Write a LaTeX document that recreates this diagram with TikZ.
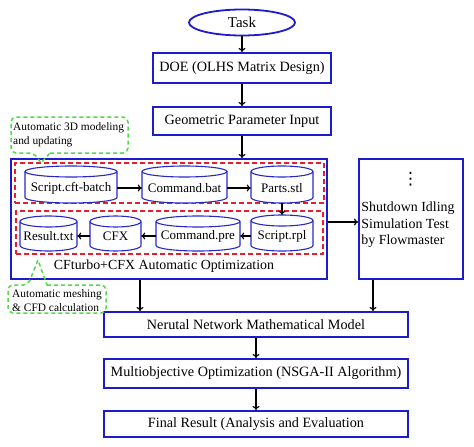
\documentclass[tikz,border=0pt]{standalone}
\usepackage{fontspec}
\setmainfont{Liberation Serif}
\newfontfamily\dejavu{DejaVu Sans}
\usetikzlibrary{arrows.meta,shapes.geometric}
\definecolor{bbox}{RGB}{28,28,205}
\definecolor{rdash}{RGB}{230,30,45}
\definecolor{gdash}{RGB}{80,220,70}
\definecolor{cylblue}{RGB}{40,40,200}
\tikzset{
  bluebox/.style={draw=bbox, line width=2.4pt, inner sep=0pt, font=\fontsize{14.2}{17}\selectfont},
  reddash/.style={draw=rdash, line width=2pt, dash pattern=on 5pt off 3pt, inner sep=0pt},
  greendash/.style={draw=gdash, line width=1.5pt, dash pattern=on 4pt off 3pt},
  arr/.style={-{To[length=4pt,width=7pt]}, line width=1.2pt, black},
  cyltext/.style={inner sep=0pt, font=\fontsize{13}{15}\selectfont},
  notetext/.style={inner sep=0pt, align=left, font=\fontsize{11.4}{13.5}\selectfont},
}
% #1 name, #2 x, #3 text y, #4 width, #5 top, #6 bottom, #7 node height, #8 text
\newcommand{\cylnode}[8]{%
  \draw[cylblue, line width=1.1pt, fill=white]
    ({#2-#4/2},{#5+5.5}) -- ({#2-#4/2},{#6-5.5})
    arc[start angle=180, end angle=360, x radius={0.5pt*#4}, y radius=5.5pt]
    -- ({#2+#4/2},{#5+5.5})
    arc[start angle=0, end angle=180, x radius={0.5pt*#4}, y radius=5.5pt] -- cycle;
  \draw[cylblue, line width=1.1pt]
    ({#2-#4/2},{#5+5.5}) arc[start angle=180, end angle=360, x radius={0.5pt*#4}, y radius=5.5pt];
  \node[cyltext, minimum width=#4pt, minimum height=#7pt] (#1) at (#2,#3) {#8};
}
\begin{document}
\begin{tikzpicture}[x=1pt, y=-1pt]
\useasboundingbox (0,0) rectangle (474,447);

\node[ellipse, draw=bbox, line width=1.8pt, minimum width=106pt, minimum height=26pt, inner sep=0pt,
      font=\fontsize{15}{18}\selectfont] (task) at (242,22.5) {Task};
\node[bluebox, minimum width=177.6pt, minimum height=29.6pt] (doe) at (242,68) {DOE (OLHS Matrix Design)};
\node[bluebox, minimum width=177.6pt, minimum height=27.6pt] (geo) at (242,121) {Geometric Parameter Input};

\node[bluebox, minimum width=315.6pt, minimum height=119.6pt] (cf) at (169,219) {};
\node[reddash, minimum width=309pt, minimum height=40pt] (red1) at (169.5,183) {};
\node[reddash, minimum width=307pt, minimum height=43pt] (red2) at (169.5,232.5) {};
\node[inner sep=0pt, font=\fontsize{13.9}{16}\selectfont] (cflabel) at (164,266) {CFturbo+CFX Automatic Optimization};

\cylnode{script}{71}{188}{92}{166}{203}{30}{Script.cft-batch}
\cylnode{cmd}{184.5}{188}{85}{166}{203}{30}{Command.bat}
\cylnode{parts}{282}{188}{62}{166}{203}{30}{Parts.stl}
\cylnode{result}{48.5}{236}{57}{216}{251}{42}{Result.txt}
\cylnode{cfx}{115.5}{236}{51}{216}{251}{42}{CFX}
\cylnode{cmdpre}{198}{236}{84}{216}{251}{42}{Command.pre}
\cylnode{rpl}{282}{236}{62}{215}{251}{42}{Script.rpl}

\node[bluebox, minimum width=103.6pt, minimum height=119.6pt] (flow) at (411,219) {};
\node[inner sep=0pt, align=left, font=\fontsize{13.9}{16.5}\selectfont] (flowtext) at (408,225)
      {Shutdown Idling\\Simulation Test\\by Flowmaster};
\node[inner sep=0pt, font=\fontsize{17}{17}\dejavu] (dots) at (410.5,179.5) {⋮};

\node[bluebox, minimum width=303.6pt, minimum height=24.6pt] (nn) at (256,324.5) {Nerutal Network Mathematical Model};
\node[bluebox, minimum width=303.6pt, minimum height=28.6pt] (multi) at (256,373.5) {Multiobjective Optimization (NSGA-II Algorithm)};
\node[bluebox, minimum width=303.6pt, minimum height=25.6pt] (final) at (256,424) {Final Result (Analysis and Evaluation};

% callouts
\draw[greendash] [rounded corners=5pt] (50,153) -- (128,153) -- (128,117) -- (11,117) -- (11,153) -- (34,153) [sharp corners] -- (41,163) -- cycle;
\node[notetext, anchor=west] (note1) at (13,135) {Automatic 3D modeling\\and updating};
\draw[greendash] [rounded corners=5pt] (47,285) -- (106,285) -- (106,313) -- (8,313) -- (8,285) -- (28,285) [sharp corners] -- (38,260) -- cycle;
\node[notetext, anchor=west] (note2) at (12,300.5) {Automatic meshing\\\& CFD calculation};

% connectors
\draw[arr] (task) -- (doe);
\draw[arr] (doe) -- (geo);
\draw[arr] (geo) -- (geo |- cf.north);
\draw[arr] (script) -- (cmd);
\draw[arr] (cmd) -- (parts);
\draw[arr] (parts) -- (rpl);
\draw[arr] (rpl) -- (cmdpre);
\draw[arr] (cmdpre) -- (cfx);
\draw[arr] (cfx) -- (result);
\draw[arr] ([yshift=-3pt]cf.east) -- ([yshift=-3pt]flow.west);
\draw[arr] ([xshift=-29pt]cf.south) -- ([xshift=-29pt]cf.south |- nn.north);
\draw[arr] ([xshift=-38pt]flow.south) -- ([xshift=-38pt]flow.south |- nn.north);
\draw[arr] (nn) -- (multi);
\draw[arr] (multi) -- (final);
\end{tikzpicture}
\end{document}
